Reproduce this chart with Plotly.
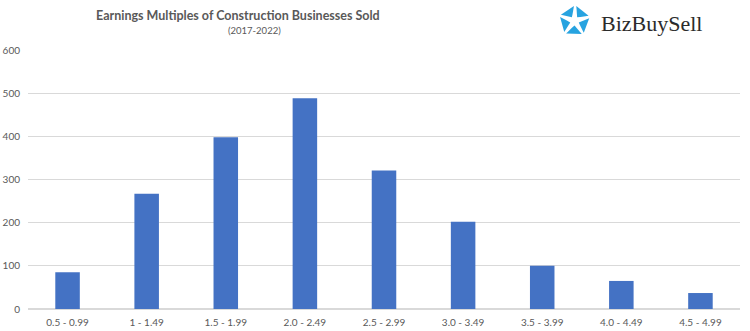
import math
import plotly.graph_objects as go

categories = ["0.5 - 0.99", "1 - 1.49", "1.5 - 1.99", "2.0 - 2.49", "2.5 - 2.99",
              "3.0 - 3.49", "3.5 - 3.99", "4.0 - 4.49", "4.5 - 4.99"]
counts = [85, 267, 398, 488, 321, 202, 100, 65, 37]
y_ticks = [0, 100, 200, 300, 400, 500, 600]

W, H = 750, 331
ML, MR, MT, MB = 28, 10, 50, 22
PW, PH = W - ML - MR, H - MT - MB

def px(x):
    return (x - ML) / PW

def py(y):
    return (H - MB - y) / PH

fig = go.Figure()
fig.add_trace(go.Bar(
    x=categories, y=counts,
    marker=dict(color="#4472c4", line=dict(color="#4472c4", width=0)),
    hoverinfo="x+y",
))

TXT = "#595959"
FONT = "Lato, 'Open Sans', sans-serif"

fig.update_layout(
    width=W, height=H,
    margin=dict(l=ML, r=MR, t=MT, b=MB, autoexpand=False),
    paper_bgcolor="white", plot_bgcolor="white",
    showlegend=False,
    bargap=0.69,
    font=dict(family=FONT, size=10, color=TXT),
    xaxis=dict(type="category", showgrid=False, showline=True, linecolor="#d9d9d9",
               ticks="", tickfont=dict(size=10, color=TXT), automargin=False,
               ticklabelstandoff=4),
    yaxis=dict(range=[0, 600], tickvals=y_ticks, showgrid=True, gridcolor="#d9d9d9",
               gridwidth=1, zeroline=True, zerolinecolor="#d9d9d9", showline=False,
               ticks="", tickfont=dict(size=10, color=TXT), automargin=False,
               ticklabelstandoff=7),
)

# Title and subtitle
fig.add_annotation(x=px(238), y=py(15), xref="paper", yref="paper",
                   text="<b>Earnings Multiples of Construction Businesses Sold</b>",
                   showarrow=False, xanchor="center", yanchor="middle",
                   font=dict(family=FONT, size=12.5, color=TXT))
fig.add_annotation(x=px(254), y=py(31), xref="paper", yref="paper",
                   text="(2017-2022)", showarrow=False, xanchor="center", yanchor="middle",
                   font=dict(family=FONT, size=9.5, color=TXT))

# Logo icon: five pieces around a centre with a star-shaped hole
cx, cy, R, r = 574.5, 21, 15, 4.5
for i in range(5):
    a0 = math.radians(-90 + 72 * i)
    a1 = math.radians(-90 + 72 * (i + 1))
    g = math.radians(7)
    pts = [
        (cx + R * math.cos(a0 + g), cy + R * math.sin(a0 + g)),
        (cx + R * math.cos(a1 - g * 0.3), cy + R * math.sin(a1 - g * 0.3)),
        (cx + r * 1.6 * math.cos(a1 - g * 2.2), cy + r * 1.6 * math.sin(a1 - g * 2.2)),
        (cx + r * math.cos((a0 + a1) / 2), cy + r * math.sin((a0 + a1) / 2)),
    ]
    path = "M " + " L ".join(f"{px(x):.5f},{py(y):.5f}" for x, y in pts) + " Z"
    fig.add_shape(type="path", path=path, xref="paper", yref="paper",
                  fillcolor="#27a3e0", line=dict(width=0), layer="above")

fig.add_annotation(x=px(599), y=py(24), xref="paper", yref="paper",
                   text="BizBuySell", showarrow=False, xanchor="left", yanchor="middle",
                   font=dict(family="'Liberation Serif', 'Times New Roman', serif",
                             size=22, color="#2b2b2b"))

fig.write_html("out.html")
